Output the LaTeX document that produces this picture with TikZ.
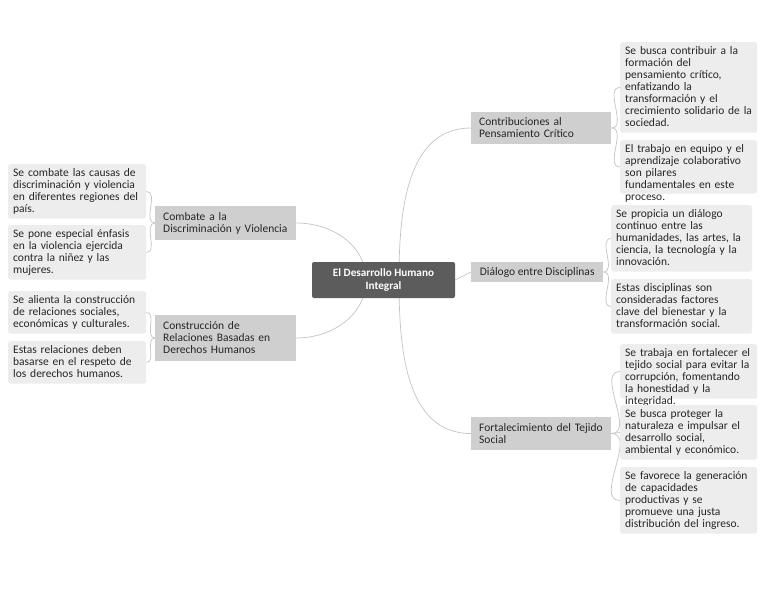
\documentclass[tikz,border=0pt]{standalone}
\usepackage{fontspec}
\setmainfont{Carlito}
\usetikzlibrary{backgrounds}
\definecolor{rootgray}{HTML}{5C5C5C}
\definecolor{branchgray}{HTML}{CFCFCF}
\definecolor{leafgray}{HTML}{EDEDED}
\definecolor{linkgray}{HTML}{C4C4C4}
\definecolor{inkgray}{HTML}{262626}
\tikzset{
  root/.style={fill=rootgray, text=white, font=\fontsize{11.2}{12.5}\selectfont\bfseries,
    align=center, minimum width=143pt, minimum height=36pt, rounded corners=2pt},
  branch/.style={fill=branchgray, text=inkgray, anchor=west, align=left,
    inner xsep=8pt, font=\fontsize{11.5}{12}\selectfont},
  leaf/.style={fill=leafgray, text=inkgray, anchor=north west, align=left,
    rounded corners=2.5pt, inner xsep=5pt, inner ysep=3.5pt, text height=8.5pt,
    text depth=#1, font=\fontsize{11.5}{12}\selectfont},
  link/.style={draw=linkgray, line width=0.7pt}
}
\begin{document}
\begin{tikzpicture}[x=1pt, y=-1pt]
  \useasboundingbox (0,0) rectangle (768,594);
  % center
  \node[root] (cen) at (383.5,280) {El Desarrollo Humano\\Integral};
  \coordinate (hubL) at (366,280);
  \coordinate (hubR) at (399,280);
  % left branches
  \node[branch, text width=125pt, minimum height=34pt] (comb) at (155,223)
    {Combate a la\\Discriminación y Violencia};
  \node[branch, text width=125pt, minimum height=46pt] (cons) at (155,338)
    {Construcción de\\Relaciones Basadas en\\Derechos Humanos};
  % right branches
  \node[branch, text width=124pt, minimum height=32pt] (cont) at (471,128)
    {Contribuciones al\\Pensamiento Crítico};
  \node[branch, minimum width=132pt, minimum height=20pt] (dial) at (471,272)
    {Diálogo entre Disciplinas};
  \node[branch, text width=124pt, minimum height=33pt] (fort) at (471,433.5)
    {Fortalecimiento del Tejido\\Social};
  % leaves
  \node[leaf=39pt, text width=128pt] (comb1) at (8,164)
    {Se combate las causas de\\discriminación y violencia\\en diferentes regiones del\\país.};
  \node[leaf=39pt, text width=128pt] (comb2) at (8,225)
    {Se pone especial énfasis\\en la violencia ejercida\\contra la niñez y las\\mujeres.};
  \node[leaf=27pt, text width=128pt] (cons1) at (8,291)
    {Se alienta la construcción\\de relaciones sociales,\\económicas y culturales.};
  \node[leaf=27pt, text width=128pt] (cons2) at (8,341)
    {Estas relaciones deben\\basarse en el respeto de\\los derechos humanos.};
  \node[leaf=75pt, text width=127pt] (cont1) at (620,42)
    {Se busca contribuir a la\\formación del\\pensamiento crítico,\\enfatizando la\\transformación y el\\crecimiento solidario de la\\sociedad.};
  \node[leaf=38pt, text width=127pt] (cont2) at (620,140)
    {El trabajo en equipo y el\\aprendizaje colaborativo\\son pilares\\fundamentales en este\\proceso.};
  \node[leaf=51pt, text width=131pt] (dial1) at (611,205)
    {Se propicia un diálogo\\continuo entre las\\humanidades, las artes, la\\ciencia, la tecnología y la\\innovación.};
  \node[leaf=39pt, text width=131pt] (dial2) at (611,279)
    {Estas disciplinas son\\consideradas factores\\clave del bienestar y la\\transformación social.};
  \node[leaf=39pt, text width=127pt] (fort1) at (620,344)
    {Se trabaja en fortalecer el\\tejido social para evitar la\\corrupción, fomentando\\la honestidad y la\\integridad.};
  \node[leaf=39pt, text width=127pt] (fort2) at (620,405)
    {Se busca proteger la\\naturaleza e impulsar el\\desarrollo social,\\ambiental y económico.};
  \node[leaf=51pt, text width=127pt] (fort3) at (620,467)
    {Se favorece la generación\\de capacidades\\productivas y se\\promueve una justa\\distribución del ingreso.};
  \begin{pgfonlayer}{background}
    \fill[white] (0,0) rectangle (768,594);
    \draw[link] (hubL) to[out=90, in=0] (comb.east);
    \draw[link] (hubL) to[out=-90, in=0] (cons.east);
    \draw[link] (hubR) to[out=90, in=180] (cont.west);
    \draw[link] (cen.east) -- (dial.west);
    \draw[link] (hubR) to[out=-90, in=180] (fort.west);
    \draw[link] (comb.west) to[out=180, in=0] (comb1.east);
    \draw[link] (comb.west) to[out=180, in=0] (comb2.east);
    \draw[link] (cons.west) to[out=180, in=0] (cons1.east);
    \draw[link] (cons.west) to[out=180, in=0] (cons2.east);
    \draw[link] (cont.east) to[out=0, in=180] (cont1.west);
    \draw[link] (cont.east) to[out=0, in=180] (cont2.west);
    \draw[link] (dial.east) to[out=0, in=180] (dial1.west);
    \draw[link] (dial.east) to[out=0, in=180] (dial2.west);
    \draw[link] (fort.east) to[out=0, in=180] (fort1.west);
    \draw[link] (fort.east) to[out=0, in=180] (fort2.west);
    \draw[link] (fort.east) to[out=0, in=180] (fort3.west);
  \end{pgfonlayer}
\end{tikzpicture}
\end{document}
